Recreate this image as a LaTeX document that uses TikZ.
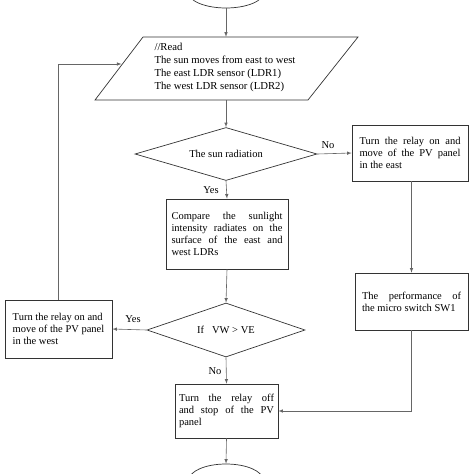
\documentclass[tikz,border=0pt]{standalone}
\usepackage{fontspec}
\setmainfont{Liberation Serif}
\usetikzlibrary{arrows,shapes.geometric}

\tikzset{
  blk/.style={draw=black!80, line width=0.7pt, rectangle, inner sep=3pt, align=justify},
  dec/.style={draw=black!80, line width=0.7pt, diamond, aspect=3.4, inner sep=0pt},
  term/.style={draw=black!80, line width=0.7pt, ellipse},
  conn/.style={draw=black!60, line width=0.6pt, -latex},
  lbl/.style={inner sep=1pt},
}

\begin{document}
\begin{tikzpicture}[x=1pt,y=-1pt,font=\fontsize{10.5}{11.8}\selectfont]
				\useasboundingbox (0,0) rectangle (474,474);
				\node[term,minimum width=76,minimum height=32] (start) at (226,-8) {};
				% read step
				\draw[black!80,line width=0.7pt] (95,100) -- (143,37) -- (358,37) -- (308,100) -- cycle;
				\node[minimum height=63,inner sep=0] (read) at (226,68.5) {};
				\node[anchor=west,align=left,font=\fontsize{10.7}{13}\selectfont] (readtxt) at (151,67) {//Read\\The sun moves from east to west\\The east LDR sensor (LDR1)\\The west LDR sensor (LDR2)};
				\coordinate (rdin) at (121.5,64);
				% decisions
				\node[dec,minimum width=182,minimum height=53] (sun) at (226,154) {The sun radiation};
				\node[dec,minimum width=158,minimum height=54] (vw) at (226,330) {If~~~VW > VE};
				% boxes
				\node[blk,text width=101,minimum width=116,minimum height=56] (east) at (410,153) {Turn the relay on and\linebreak move of the PV panel\linebreak in the east};
				\node[blk,text width=99,minimum width=113,minimum height=57] (perf) at (411.5,301.5) {The performance of\linebreak the micro switch SW1};
				\node[blk,text width=111,minimum width=122,minimum height=70] (cmp) at (227,234) {Compare the sunlight\linebreak intensity radiates on the\linebreak surface of the east and\linebreak west LDRs};
				\node[blk,align=left,minimum width=107,minimum height=58] (west) at (58.5,329) {Turn the relay on and\\move of the PV panel\\in the west};
				\node[blk,text width=95,minimum width=103,minimum height=54] (off) at (226.5,411) {Turn the relay off\linebreak and stop of the PV\linebreak panel};
				\node[term,minimum width=74,minimum height=32] (end) at (226,480) {};
				% arrows
				\draw[conn] (start) -- (read.north);
				\draw[conn] (read.south) -- (sun.north);
				\draw[conn] (sun.east) -- (east.west);
				\node[lbl] (no1) at (328,145) {No};
				\draw[conn] (sun.south) -- (cmp.north);
				\node[lbl] (yes1) at (211,190) {Yes};
				\draw[conn] (cmp.south) -- (vw.north);
				\draw[conn] (vw.west) -- (west.east);
				\node[lbl] (yes2) at (133,319) {Yes};
				\draw[conn] (vw.south) -- (off.north);
				\node[lbl] (no2) at (215,371) {No};
				\draw[conn] (east.south -| perf.north) -- (perf.north);
				\draw[conn] (perf.south) |- (off.east);
				\draw[conn] (west.north) |- (rdin);
				\draw[conn] (off.south) -- (end.north);
\end{tikzpicture}
\end{document}
